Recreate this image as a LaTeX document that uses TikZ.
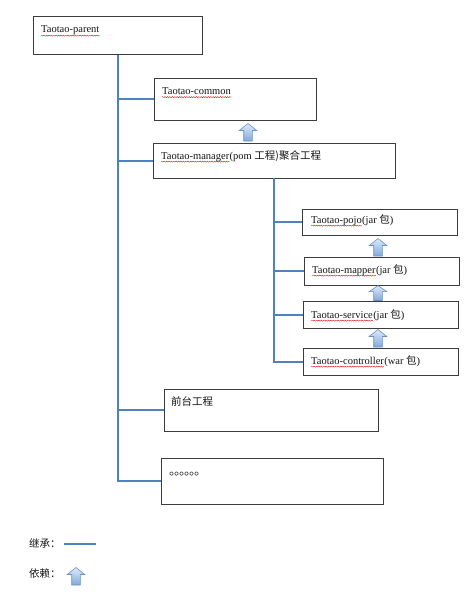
\documentclass[tikz,border=0pt]{standalone}
\usepackage{fontspec}
\setmainfont{Liberation Serif}
\newfontfamily\cjk{Noto Sans CJK SC}
\usetikzlibrary{decorations.pathmorphing,calc}
\definecolor{inhblue}{RGB}{79,129,189}
\definecolor{boxgray}{RGB}{60,60,60}
\definecolor{arrtop}{RGB}{222,234,248}
\definecolor{arrbot}{RGB}{128,168,218}
\definecolor{arrline}{RGB}{105,145,198}
\definecolor{txtcol}{RGB}{20,20,20}
\tikzset{
  box/.style={draw=boxgray, line width=1pt, rectangle, inner sep=0pt, outer sep=0pt, anchor=north west},
  inh/.style={draw=inhblue, line width=2pt},
  tx/.style={inner sep=0pt, anchor=base west, text=txtcol, font=\fontsize{10.5}{12}\selectfont},
  wavy/.style={draw=red!85!black, line width=0.35pt, decorate, decoration={snake, amplitude=0.6pt, segment length=2.4pt}},
  uparr/.pic={\path[top color=arrtop, bottom color=arrbot, draw=arrline, line width=0.6pt]
     (-4.3,0) -- (-4.3,-10.5) -- (-8.8,-10.5) -- (0,-17.5) -- (8.8,-10.5) -- (4.3,-10.5) -- (4.3,0) -- cycle;}
}
\begin{document}
\begin{tikzpicture}[x=1pt,y=-1pt]
\useasboundingbox[fill=white] (0,0) rectangle (474,594);
% boxes
\node[box, minimum width=169pt, minimum height=38pt] (parent) at (33,17) {};
\node[box, minimum width=162pt, minimum height=42pt] (common) at (154,78) {};
\node[box, minimum width=242pt, minimum height=35pt] (manager) at (153,143) {};
\node[box, minimum width=155pt, minimum height=26pt] (pojo) at (302,209) {};
\node[box, minimum width=155pt, minimum height=28pt] (mapper) at (304,257) {};
\node[box, minimum width=155pt, minimum height=27pt] (service) at (303,301) {};
\node[box, minimum width=155pt, minimum height=27pt] (controller) at (303,348) {};
\node[box, minimum width=214pt, minimum height=42pt] (front) at (164,389) {};
\node[box, minimum width=222pt, minimum height=46pt] (dots) at (161,458) {};
% inheritance lines
\draw[inh] (parent.south) |- (dots.west);
\draw[inh] (parent.south) |- (common.west);
\draw[inh] (parent.south) |- (manager.west);
\draw[inh] (parent.south) |- (front.west);
\draw[inh] (manager.south) |- (controller.west);
\draw[inh] (manager.south) |- (pojo.west);
\draw[inh] (manager.south) |- (mapper.west);
\draw[inh] (manager.south) |- (service.west);
% dependency arrows
\pic at (248,141) {uparr};
\pic at (378,256) {uparr};
\pic[yscale=0.85] at (378,300.5) {uparr};
\pic at (378,347) {uparr};
% texts
\node[tx] (tparent) at (41,33) {Taotao-parent};
\draw[wavy] ([yshift=-2.6pt]tparent.base west) -- ([yshift=-2.6pt]tparent.base east);
\node[tx] (tcommon) at (162,94.5) {Taotao-common};
\draw[wavy] ([yshift=-2.6pt]tcommon.base west) -- ([yshift=-2.6pt]tcommon.base east);
\node[tx] (tman) at (161,159) {Taotao-manager};
\draw[wavy] ([yshift=-2.6pt]tman.base west) -- ([yshift=-2.6pt]tman.base east);
\node[tx] (tman2) at (tman.base east) {(pom {\cjk 工程)聚合工程}};
\node[tx] (tpojo) at (311,223) {Taotao-pojo};
\draw[wavy] ([yshift=-2.6pt]tpojo.base west) -- ([yshift=-2.6pt]tpojo.base east);
\node[tx] (tpojo2) at (tpojo.base east) {(jar {\cjk 包})};
\node[tx] (tmapper) at (312,273) {Taotao-mapper};
\draw[wavy] ([yshift=-2.6pt]tmapper.base west) -- ([yshift=-2.6pt]tmapper.base east);
\node[tx] (tmapper2) at (tmapper.base east) {(jar {\cjk 包})};
\node[tx] (tservice) at (311,318) {Taotao-service};
\draw[wavy] ([yshift=-2.6pt]tservice.base west) -- ([yshift=-2.6pt]tservice.base east);
\node[tx] (tservice2) at (tservice.base east) {(jar {\cjk 包})};
\node[tx] (tcontroller) at (311,364) {Taotao-controller};
\draw[wavy] ([yshift=-2.6pt]tcontroller.base west) -- ([yshift=-2.6pt]tcontroller.base east);
\node[tx] (tcontroller2) at (tcontroller.base east) {(war {\cjk 包})};
\node[tx] (tfront) at (171,405) {\cjk 前台工程};
\node[tx, font=\fontsize{12.5}{14}\selectfont] (tdots) at (169,480) {°°°°°°};
% legend
\node[tx, anchor=west] (leg1) at (29,543) {\cjk 继承：};
\coordinate (leg1end) at (96,544);
\draw[draw=inhblue, line width=1.5pt] ([xshift=3pt]leg1.east |- leg1end) -- (leg1end);
\node[tx, anchor=west] (leg2) at (29,574) {\cjk 依赖：};
\pic at (76,585) {uparr};
\end{tikzpicture}
\end{document}
